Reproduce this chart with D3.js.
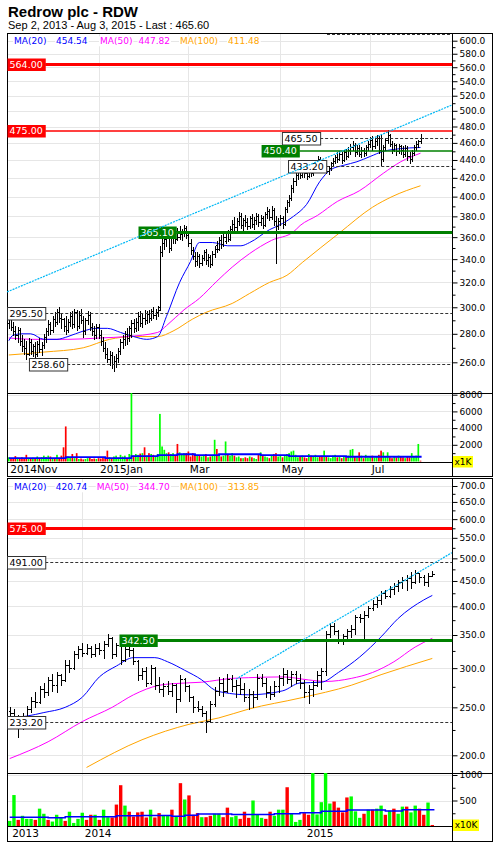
<!DOCTYPE html>
<html><head><meta charset="utf-8">
<script src="https://cdn.jsdelivr.net/npm/d3@7"></script>
<style>body{margin:0;background:#fff}</style>
</head><body>
<svg id="c" width="500" height="850"></svg>
<script>
// ---------------- DATA ----------------
const title = "Redrow plc - RDW";
const subtitle = "Sep 2, 2013 - Aug 3, 2015 - Last : 465.60";

// daily bars (Nov 2014 - Aug 2015): [open, high, low, close]
const dailyOHLC = [
[288,296,284,291],[291,293,283,285],[285,289,279,282],[282,286,276,279],[279,285,274,283],
[283,284,272,275],[275,279,268,271],[271,276,266,270],[270,275,262,266],[266,277,265,274],
[274,276,266,268],[268,273,264,271],[271,274,263,266],[266,275,264,273],[273,277,267,269],
[269,274,265,272],[272,280,270,278],[278,284,274,282],[282,290,279,287],[287,289,280,283],
[283,293,281,291],[291,296,286,289],[289,299,287,296],[296,300,289,292],[292,295,284,291],
[291,292,282,286],[286,293,280,283],[283,291,281,289],[289,296,286,293],[293,297,284,287],
[287,299,285,296],[296,298,283,286],[286,297,284,294],[294,299,288,290],[290,293,278,282],
[282,292,280,290],[290,297,287,294],[294,296,283,285],[285,288,279,282],[282,286,276,279],
[279,287,277,285],[285,287,277,279],[279,283,272,275],[275,278,268,270],[270,274,263,266],
[266,270,260,262],[262,268,258,265],[265,267,256,259],[259,264,254,261],[261,266,257,263],
[263,270,260,268],[268,276,266,274],[274,279,270,276],[276,282,272,280],[280,284,273,277],
[277,286,275,284],[279,290,278,288],[288,291,281,284],[284,292,282,289],[289,296,283,293],
[293,297,286,288],[288,295,285,292],[292,298,287,290],[290,297,288,295],[295,298,289,292],
[292,299,290,297],[297,300,292,294],[294,299,291,296],[296,301,293,298],[300,352,298,346],
[346,360,343,355],[355,363,349,358],[358,366,352,362],[362,364,346,350],[350,361,348,359],
[359,368,355,364],[364,367,355,358],[366,369,357,360],[360,371,358,363],[363,368,357,365],
[365,372,361,369],[369,371,359,362],[362,365,352,355],[355,358,345,348],[348,351,340,343],
[343,346,334,338],[338,346,335,343],[343,345,333,337],[337,344,335,341],[341,348,339,346],
[346,349,336,339],[339,345,334,342],[342,344,333,336],[336,347,335,345],[345,352,342,349],
[353,356,346,349],[349,360,348,357],[357,362,350,354],[354,363,352,360],[356,366,355,364],
[364,367,356,358],[358,371,357,368],[368,376,365,373],[373,379,367,370],[370,378,366,375],
[375,384,372,380],[380,383,369,372],[372,378,367,376],[376,381,371,374],[374,378,368,371],
[371,380,369,378],[378,382,370,373],[373,379,368,376],[376,383,373,380],[380,382,371,374],
[374,381,372,378],[378,380,369,372],[372,384,371,382],[382,389,378,385],[385,387,376,379],
[379,390,377,386],[386,388,372,375],[375,380,337,371],[371,378,368,375],[375,381,372,378],
[378,380,369,373],[373,389,372,387],[387,397,384,394],[394,402,390,399],[399,412,396,409],
[409,420,405,417],[417,426,412,423],[423,430,419,427],[427,431,420,423],[423,432,421,429],
[429,433,421,425],[425,429,419,422],[422,431,421,428],[428,432,422,425],[425,434,423,431],
[431,440,429,437],[437,445,434,441],[441,443,432,435],[435,438,427,430],[430,437,428,434],
[434,436,425,428],[428,433,424,431],[431,438,429,436],[436,442,433,439],[439,446,436,443],
[443,449,438,441],[441,450,440,447],[447,449,436,440],[440,452,439,449],[449,453,441,444],
[444,455,443,451],[451,459,447,455],[455,462,451,458],[458,460,445,449],[449,457,447,454],
[454,458,444,447],[447,455,443,452],[452,454,445,448],[448,458,446,455],[455,462,452,459],
[459,467,455,463],[463,468,452,456],[456,466,454,462],[462,470,458,466],[466,468,448,452],
[452,470,434,441],[441,458,439,455],[455,466,452,463],[463,476,460,469],[469,471,456,459],
[459,462,448,452],[452,460,450,457],[457,459,446,450],[450,459,448,456],[456,458,447,451],
[451,456,443,447],[447,457,445,454],[454,456,440,444],[444,449,437,441],[441,451,439,448],
[448,458,446,455],[455,462,452,459],[459,464,455,462],[466,471,460,465.6]
];
// daily volume (thousands)
const dailyVolume = [
500,350,400,650,450,300,500,350,800,400, 300,450,350,600,400,500,700,550,700,600,
350,300,800,400,700,1700,4200,600,450,900, 400,1000,300,350,250,300,400,450,300,350,
300,400,350,450,300,1300,500,300,600,700, 450,800,600,700,400,900,8200,700,900,800,
950,1000,1700,700,1000,900,800,600,900,5700, 1800,1400,1000,1100,900,1000,700,2100,1100,900,
1000,1000,1200,600,1000,900,800,700,600,800, 900,500,600,700,2600,1500,800,600,700,2400,
800,700,1000,700,500,600,400,400,500,400, 600,500,400,300,900,1100,800,600,500,400,
700,900,1000,600,700,500,700,900,1000,1200, 1300,800,500,600,700,500,400,900,700,600,
800,500,600,700,1300,600,500,400,700,800, 500,600,400,600,500,700,1400,1500,600,500,
1100,700,400,800,500,600,700,500,600,800, 1300,1100,600,1100,500,400,600,500,700,600,
500,400,600,500,1000,600,700,2100,100
];
const dailyVolMA = [[0,415],[26,530],[44,415],[56,640],[68,755],[77,870],[85,755],[96,870],[115,755],[128,640],[154,566],[188.5,566]];
const dailyMA20 = [[0,275],[2,279],[6,280],[10,280],[16,276],[22,276],[27,278],[34,282],[40,284],[45,284],[51,281],[57,278],[63,276],[68,278],[72,293],[78,320],[83,338],[87,355],[93,355],[100,352],[106,352],[110,355],[119,367],[125,373],[130,380],[136,392],[142,416],[147,429],[153,434],[159,438],[165,444],[171,450],[175,452],[183,454],[188,454.54]];
const dailyMA50 = [[0,277],[11,276],[27,276],[42,277],[54,278],[68,281],[72,286],[80,298],[87,307],[95,321],[102,333],[110,345],[120,357],[130,365],[133,371],[141,381],[150,395],[160,406],[171,425],[179,438],[188,447.82]];
const dailyMA100 = [[0,265],[16,267],[34,270],[46,276],[57,278],[68,278],[75,282],[84,291],[90,296],[102,303],[110,311],[119,320],[127,326],[134,337],[151,364],[166,389],[175,400],[188,411.48]];
const dailyTicks = [[0,"2014Nov"],[41,"2015Jan"],[82,"Mar"],[124,"May"],[165,"Jul"]];
const dailyPriceTicks = [260,280,300,320,340,360,380,400,420,440,460,480,500,520,540,560,580,600];
const dailyVolTicks = [2000,4000,6000,8000];
const dailyTrend = [[-0.8,312.2],[202.4,507.7]];
// levels: value, type, start bar index
const dailyLevels = [
  {value:610.5, type:"dash", from:145.3, label:false},
  {value:564.00, type:"redThick", from:-1},
  {value:475.00, type:"redThin", from:-1},
  {value:465.50, type:"dash", from:124.7},
  {value:450.40, type:"greenThin", from:115.2},
  {value:433.20, type:"dash", from:127.5},
  {value:365.10, type:"greenThick", from:59},
  {value:295.50, type:"dash", from:-1},
  {value:258.60, type:"dash", from:9.2}
];

// weekly bars (Sep 2013 - Aug 2015): [open, high, low, close]
const weeklyOHLC = [
[246,250,238,243],[243,248,235,240],[240,241,218,228],[228,244,226,240],[240,252,236,248],
[248,262,245,258],[258,268,250,256],[256,276,255,272],[272,280,262,268],[268,288,265,284],
[284,292,270,278],[278,295,268,290],[290,292,278,284],[284,312,283,305],[305,312,295,300],
[300,325,299,320],[320,332,315,328],[328,337,318,322],[322,335,320,330],[330,333,316,320],
[320,335,318,330],[330,338,320,326],[326,340,315,335],[335,352,332,345],[345,346,314,320],
[320,338,318,334],[334,336,306,312],[312,332,310,328],[328,333,318,326],[326,330,306,310],
[310,312,284,290],[290,300,285,296],[296,302,276,280],[280,305,279,300],[300,301,272,278],
[278,288,268,272],[272,280,264,276],[276,283,266,270],[270,280,264,278],[278,279,245,260],
[260,290,258,285],[285,287,270,276],[276,277,258,262],[262,263,245,250],[250,258,246,248],
[248,252,240,244],[244,246,223,235],[235,258,234,254],[254,275,252,270],[270,288,265,280],
[280,286,264,270],[270,292,268,285],[285,290,270,276],[276,284,262,278],[278,286,266,272],
[272,280,258,262],[262,272,248,266],[266,270,250,262],[262,292,260,286],[286,292,276,280],
[280,286,262,268],[268,276,260,266],[266,282,264,276],[276,290,268,286],[286,300,278,292],
[292,298,280,285],[285,296,276,292],[292,296,280,284],[284,292,274,280],[280,284,262,268],
[268,278,255,272],[272,282,264,278],[278,296,276,290],[290,300,272,296],[296,356,290,352],
[352,370,346,365],[365,370,352,356],[356,358,338,344],[344,352,336,348],[348,360,344,356],
[356,366,346,360],[360,385,352,380],[380,386,372,378],[378,392,340,384],[384,400,380,396],
[396,412,393,405],[405,418,398,412],[412,430,404,425],[425,432,415,420],[420,440,418,434],
[434,446,424,440],[440,452,430,448],[448,458,436,452],[452,462,432,457],[457,470,436,448],
[448,473,445,466],[466,468,448,458],[458,462,442,447],[447,467,440,460],[460,471,460,465.6]
];
// weekly volume (x10K) and up(1)/down(0) week
const weeklyVolume = [
100,607,120,200,140,140,120,340,240,120, 87,220,167,100,280,60,140,260,120,220,
220,120,320,173,167,420,800,400,280,187, 267,280,167,320,167,253,207,207,320,187,
840,520,600,220,253,173,173,200,240,240, 173,360,173,200,140,280,160,500,220,160,
140,280,200,320,320,760,240,80,120,253, 220,1100,227,467,1100,440,480,360,267,560,
580,287,160,240,320,320,340,400,220,300, 340,240,380,380,267,400,340,220,460,20
];
const weeklyUp = [
1,1,0,1,1,1,0,1,1,0, 1,1,1,0,1,1,1,1,0,0, 1,0,1,1,0,0,0,1,0,0,
0,0,0,1,0,0,1,1,0,1, 0,1,0,0,0,1,0,0,1,1, 0,0,1,1,0,0,0,1,1,1,
0,0,1,1,1,0,1,1,1,0, 0,1,1,1,1,1,0,0,0,0, 1,1,1,0,1,0,1,1,0,1,
0,1,1,0,1,1,0,0,1,0
];
const weeklyVolMA = [[0,173],[9,160],[13,180],[25,200],[31,207],[38,193],[41,213],[44,233],[52,227],[62,240],[68,260],[73,287],[79,313],[88,293],[92,320],[99.5,320]];
const weeklyMA20 = [[0,238],[4,240],[8,244],[13,250],[17,262],[21,288],[25,303],[29,315],[34,315],[37,309],[41,297],[45,284],[48,271],[50,268],[56,265],[64,270],[68,280],[73,281],[77,294],[82,316],[87,347],[91,378],[97,412],[99,420.74]];
const weeklyMA50 = [[0,197],[9,213],[17,234],[24,250],[29,265],[35,277],[38,279],[45,281],[52,286],[56,287],[64,288],[70,284],[74,282],[80,286],[85,294],[90,309],[95,331],[99,344.70]];
const weeklyMA100 = [[18,189],[31,215],[42,231],[49,238],[56,248],[68,261],[80,277],[87,291],[99,313.85]];
const weeklyTicks = [[0,"2013"],[17,"2014"],[69,"2015"]];
const weeklyPriceTicks = [200,250,300,350,400,450,500,550,600,650,700];
const weeklyVolTicks = [500,1000];
const weeklyTrend = [[53,285],[103.6,513.3]];
const weeklyLevels = [
  {value:575.00, type:"redThick", from:-1},
  {value:491.00, type:"dash", from:-1},
  {value:342.50, type:"greenThick", from:25.6},
  {value:233.20, type:"dash", from:-1}
];

// ---------------- DRAWING ----------------
const svg = d3.select("#c");
const FONT = "'DejaVu Sans', Verdana, sans-serif";
const L = 7, R = 452.5, RR = 492.5;
const GRID = "#e6e6e6";

const P1 = {top:33, price:393, vol:462, bottom:476.5};
const P2 = {top:478, price:773, vol:826, bottom:841};

const xTop = d3.scaleLinear().domain([0,188]).range([8.8,420.5]);
const yTop = d3.scaleLog().domain([260,600]).range([362.3,40.7]);
const yTopVol = d3.scaleLinear().domain([0,8000]).range([461.5,394.7]);
const xBot = d3.scaleLinear().domain([0,99]).range([9.7,432.3]);
const yBot = d3.scaleLog().domain([200,700]).range([755.3,486]);
const yBotVol = d3.scaleLinear().domain([0,1000]).range([826,775]);

const defs = svg.append("defs");
function clip(id,x,y,w,h){defs.append("clipPath").attr("id",id).append("rect").attr("x",x).attr("y",y).attr("width",w).attr("height",h);return `url(#${id})`;}
const cTopP = clip("ctp",L,P1.top,R-L,P1.price-P1.top);
const cTopV = clip("ctv",L,P1.price,R-L,P1.vol-P1.price);
const cBotP = clip("cbp",L,P2.top,R-L,P2.price-P2.top);
const cBotV = clip("cbv",L,P2.price,R-L,P2.vol-P2.price);

// title
svg.append("text").attr("x",8).attr("y",17).attr("font-family","'Liberation Sans', Arial, sans-serif")
  .attr("font-weight","bold").attr("font-size",15).text(title);
svg.append("text").attr("x",8).attr("y",29).attr("font-family","'Liberation Sans', Arial, sans-serif")
  .attr("font-size",11).text(subtitle);

function panel(P, x, y, yVol, ticks, priceTicks, volTicks, labelDx){
  const g = svg.append("g");
  g.selectAll(null).data(priceTicks).join("line")
    .attr("x1",L).attr("x2",R).attr("y1",d=>Math.round(y(d))+0.5).attr("y2",d=>Math.round(y(d))+0.5)
    .attr("stroke",GRID);
  g.selectAll(null).data(volTicks).join("line")
    .attr("x1",L).attr("x2",R).attr("y1",d=>Math.round(yVol(d))+0.5).attr("y2",d=>Math.round(yVol(d))+0.5)
    .attr("stroke",GRID);
  g.selectAll(null).data(ticks.slice(1)).join("line")
    .attr("x1",d=>Math.round(x(d[0]))+0.5).attr("x2",d=>Math.round(x(d[0]))+0.5)
    .attr("y1",P.top).attr("y2",P.vol).attr("stroke",GRID);
  g.selectAll(null).data(ticks).join("text")
    .attr("x",d=>x(d[0])+labelDx).attr("y",P.bottom-4)
    .attr("font-family",FONT).attr("font-size",10.5).attr("fill","#000").text(d=>d[1]);
  const f = g.append("g").attr("stroke","#000").attr("fill","none").attr("shape-rendering","crispEdges");
  f.append("rect").attr("x",L).attr("y",P.top).attr("width",RR-L).attr("height",P.bottom-P.top);
  f.append("line").attr("x1",R).attr("x2",R).attr("y1",P.top).attr("y2",P.bottom);
  f.append("line").attr("x1",L).attr("x2",RR).attr("y1",P.price).attr("y2",P.price);
  f.append("line").attr("x1",L).attr("x2",R).attr("y1",P.vol).attr("y2",P.vol);
  return g;
}

function axes(y, yVol, priceTicks, minorTicks, volTicks, volMinor, fmt){
  const style = sel => { sel.select(".domain").remove(); sel.attr("font-family",FONT).attr("font-size",9);
    sel.selectAll("text").attr("fill","#000"); sel.selectAll("line").attr("stroke","#000"); };
  svg.append("g").attr("transform",`translate(${R},0)`)
    .call(d3.axisRight(y).tickValues(priceTicks).tickFormat(d3.format(fmt)).tickSize(5).tickPadding(2)).call(style);
  svg.append("g").attr("transform",`translate(${R},0)`)
    .call(d3.axisRight(y).tickValues(minorTicks).tickFormat("").tickSize(3)).call(style);
  svg.append("g").attr("transform",`translate(${R},0)`)
    .call(d3.axisRight(yVol).tickValues(volTicks).tickFormat(d3.format("d")).tickSize(5).tickPadding(2)).call(style);
  svg.append("g").attr("transform",`translate(${R},0)`)
    .call(d3.axisRight(yVol).tickValues(volMinor).tickFormat("").tickSize(3)).call(style);
}

function ma(g, data, x, y, color){
  g.append("path").datum(data)
    .attr("d", d3.line().x(d=>x(d[0])).y(d=>y(d[1])).curve(d3.curveMonotoneX))
    .attr("fill","none").attr("stroke",color).attr("stroke-width",1);
}

function ohlc(g, data, x, y, tick){
  g.append("g").selectAll("path").data(data).join("path")
    .attr("d",(d,i)=>{const cx=Math.round(x(i))+0.5;
      return `M${cx},${Math.round(y(d[1]))}V${Math.round(y(d[2]))+1}`+
             `M${cx-tick},${Math.round(y(d[0]))+0.5}H${cx}`+
             `M${cx},${Math.round(y(d[3]))+0.5}H${cx+tick}`;})
    .attr("fill","none").attr("stroke","#000").attr("stroke-width",1).attr("shape-rendering","crispEdges");
}

function volume(g, vals, up, x, yVol, w){
  g.append("g").selectAll("rect").data(vals).join("rect")
    .attr("x",(d,i)=>x(i)-w/2).attr("width",w)
    .attr("y",d=>yVol(d)).attr("height",d=>yVol(0)-yVol(d))
    .attr("fill",(d,i)=>up(i)?"#00ff00":"#ff0000");
}

const levelStyle = {
  redThick:{stroke:"#ff0000", w:3, box:"#ff0000", txt:"#fff"},
  redThin:{stroke:"#ff0000", w:1.3, box:"#ff0000", txt:"#fff"},
  greenThick:{stroke:"#008000", w:3, box:"#008000", txt:"#fff"},
  greenThin:{stroke:"#008000", w:1.6, box:"#008000", txt:"#fff"},
  dash:{stroke:"#333", w:1, dash:"3,2", box:"#fff", border:"#333", txt:"#000"}
};
function levels(g, lv, x, y){
  lv.forEach(l=>{
    const s = levelStyle[l.type];
    const x0 = Math.max(L, x(l.from));
    const yy = Math.round(y(l.value)) + (s.w%2===1?0.5:0);
    let x1 = x0;
    if (l.label !== false){
      const t = g.append("text").attr("font-family",FONT).attr("font-size",9.5).attr("fill",s.txt)
        .attr("x",x0+2.5).attr("y",yy).attr("dy","0.36em").text(l.value.toFixed(2));
      const tw = t.node().getComputedTextLength();
      x1 = x0 + tw + 5;
      g.insert("rect", () => t.node()).attr("x",x0+0.5).attr("y",yy-6).attr("width",tw+5).attr("height",12.5)
        .attr("fill",s.box).attr("stroke",s.border||"none").attr("stroke-width",1);
    }
    g.insert("line", ":first-child").attr("x1",x1).attr("x2",R).attr("y1",yy).attr("y2",yy)
      .attr("stroke",s.stroke).attr("stroke-width",s.w).attr("stroke-dasharray",s.dash||null);
  });
}

function trend(g, data, x, y){
  g.append("path").datum(data).attr("d",d3.line().x(d=>x(d[0])).y(d=>y(d[1])))
    .attr("fill","none").attr("stroke","#00b8f5").attr("stroke-width",1.2).attr("stroke-dasharray","2,1");
}

function legendRow(yBase, items){
  const g = svg.append("g").attr("font-family",FONT).attr("font-size",9);
  items.forEach(it=>{
    const t = g.append("text").attr("x",it[0]).attr("y",yBase).attr("fill",it[2]).text(it[1]);
    const bb = t.node().getBBox();
    g.insert("rect",()=>t.node()).attr("x",bb.x-1).attr("y",bb.y).attr("width",bb.width+2).attr("height",bb.height).attr("fill","#fff");
  });
}

function yellowTag(x0,y0,w,h,txt){
  svg.append("rect").attr("x",x0).attr("y",y0).attr("width",w).attr("height",h).attr("fill","#ffff00");
  svg.append("text").attr("x",x0+w/2).attr("y",y0+h/2).attr("dy","0.35em").attr("text-anchor","middle")
    .attr("font-family",FONT).attr("font-size",9).text(txt);
}

const BLUE="#0000ff", MAG="#ff00ff", ORG="#ffa500";

// ---- top panel (daily) ----
panel(P1, xTop, yTop, yTopVol, dailyTicks, dailyPriceTicks, dailyVolTicks, 1.5);
const gTP = svg.append("g").attr("clip-path",cTopP);
ma(gTP, dailyMA100, xTop, yTop, ORG);
ma(gTP, dailyMA50, xTop, yTop, MAG);
ma(gTP, dailyMA20, xTop, yTop, BLUE);
ohlc(gTP, dailyOHLC, xTop, yTop, 2);
levels(gTP.append("g"), dailyLevels, xTop, yTop);
trend(gTP, dailyTrend, xTop, yTop);
const gTV = svg.append("g").attr("clip-path",cTopV);
volume(gTV, dailyVolume, i=>dailyOHLC[i][3]>=dailyOHLC[i][0], xTop, yTopVol, 1.7);
gTV.append("path").datum(dailyVolMA).attr("d",d3.line().x(d=>xTop(d[0])).y(d=>yTopVol(d[1])).curve(d3.curveStepAfter))
  .attr("fill","none").attr("stroke",BLUE).attr("stroke-width",1.8);
axes(yTop, yTopVol, dailyPriceTicks, d3.range(270,600,20), dailyVolTicks, [1000,3000,5000,7000], ".1f");
yellowTag(453,456,20,11.5,"x1K");
legendRow(44.3, [[14,"MA(20)",BLUE],[56,dailyMA20[dailyMA20.length-1][1].toFixed(2),BLUE],
  [100,"MA(50)",MAG],[138.5,dailyMA50[dailyMA50.length-1][1].toFixed(2),MAG],
  [180,"MA(100)",ORG],[228,dailyMA100[dailyMA100.length-1][1].toFixed(2),ORG]]);

// ---- bottom panel (weekly) ----
panel(P2, xBot, yBot, yBotVol, weeklyTicks, weeklyPriceTicks, weeklyVolTicks, 2.5);
const gBP = svg.append("g").attr("clip-path",cBotP);
ma(gBP, weeklyMA100, xBot, yBot, ORG);
ma(gBP, weeklyMA50, xBot, yBot, MAG);
ma(gBP, weeklyMA20, xBot, yBot, BLUE);
ohlc(gBP, weeklyOHLC, xBot, yBot, 2);
levels(gBP.append("g"), weeklyLevels, xBot, yBot);
trend(gBP, weeklyTrend, xBot, yBot);
const gBV = svg.append("g").attr("clip-path",cBotV);
volume(gBV, weeklyVolume, i=>weeklyUp[i]===1, xBot, yBotVol, 3.4);
gBV.append("path").datum(weeklyVolMA).attr("d",d3.line().x(d=>xBot(d[0])).y(d=>yBotVol(d[1])).curve(d3.curveStepAfter))
  .attr("fill","none").attr("stroke",BLUE).attr("stroke-width",1.5);
axes(yBot, yBotVol, weeklyPriceTicks, [225,275,325,375,425,475,525,575,625,675], weeklyVolTicks, [250,750], ".1f");
yellowTag(453,819.5,26,11.5,"x10K");
legendRow(490.3, [[14,"MA(20)",BLUE],[55.7,weeklyMA20[weeklyMA20.length-1][1].toFixed(2),BLUE],
  [96.7,"MA(50)",MAG],[138.3,weeklyMA50[weeklyMA50.length-1][1].toFixed(2),MAG],
  [180,"MA(100)",ORG],[227.7,weeklyMA100[weeklyMA100.length-1][1].toFixed(2),ORG]]);
</script>
</body></html>
